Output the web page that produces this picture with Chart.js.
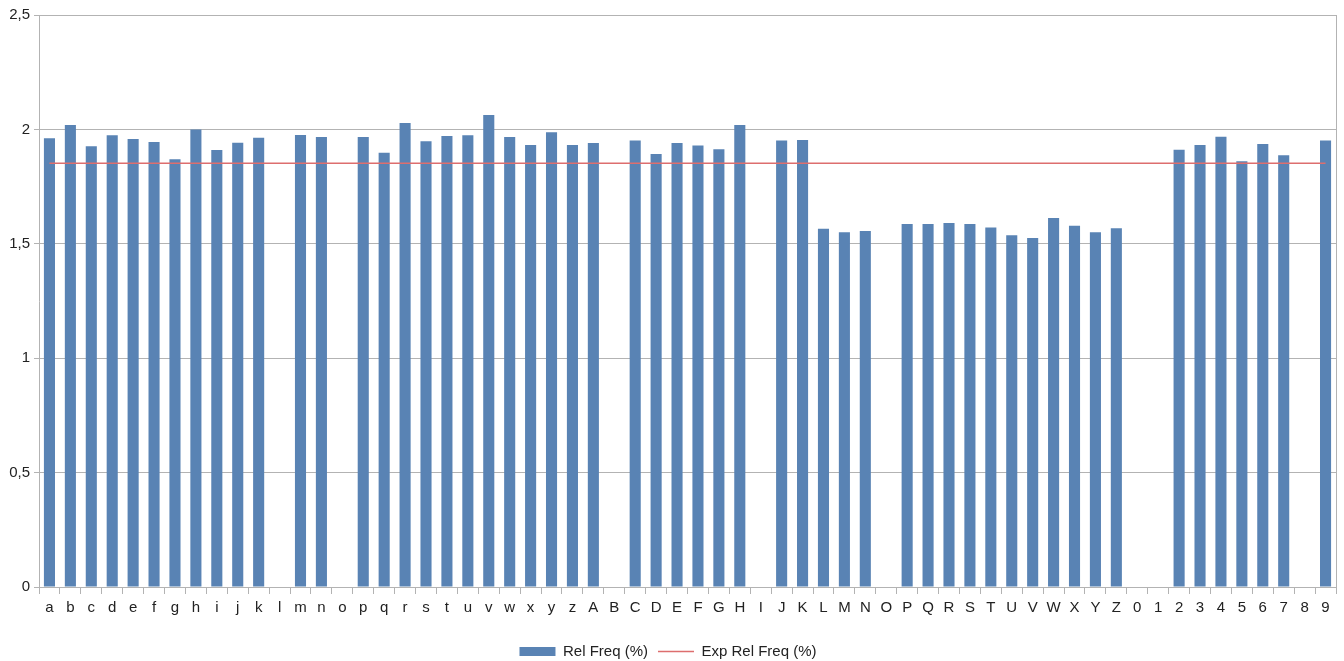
<!DOCTYPE html>
<html>
<head>
<meta charset="utf-8">
<script src="https://cdn.jsdelivr.net/npm/chart.js@4/dist/chart.umd.min.js"></script>
<style>
  html, body { margin: 0; padding: 0; background: #fff; }
  #wrap { width: 1344px; height: 661px; }
</style>
</head>
<body>
<div id="wrap"><canvas id="myChart"></canvas></div>
<script>
// categories: lower case, upper case, digits
const symbols = [
    "a","b","c","d","e","f","g","h","i","j","k","l","m","n","o","p","q","r","s","t","u","v","w","x","y","z",
    "A","B","C","D","E","F","G","H","I","J","K","L","M","N","O","P","Q","R","S","T","U","V","W","X","Y","Z",
    "0","1","2","3","4","5","6","7","8","9"
];

// observed relative frequency (%)
const relFreq = [
    1.961, 2.019, 1.926, 1.974, 1.958, 1.945, 1.869, 2.000, 1.910, 1.942, 1.964, 0, 1.976,
    1.967, 0, 1.967, 1.898, 2.028, 1.948, 1.971, 1.974, 2.063, 1.967, 1.932, 1.987, 1.932,
    1.941, 0, 1.951, 1.893, 1.941, 1.930, 1.913, 2.019, 0, 1.952, 1.954, 1.566, 1.550,
    1.556, 0, 1.587, 1.587, 1.591, 1.587, 1.571, 1.537, 1.525, 1.613, 1.579, 1.551, 1.568,
    0, 0, 1.911, 1.932, 1.968, 1.861, 1.936, 1.887, 0, 1.952
];

// expected relative frequency (%), same for every symbol
const expRelFreq = [
    1.852, 1.852, 1.852, 1.852, 1.852, 1.852, 1.852, 1.852, 1.852, 1.852, 1.852, 1.852, 1.852,
    1.852, 1.852, 1.852, 1.852, 1.852, 1.852, 1.852, 1.852, 1.852, 1.852, 1.852, 1.852, 1.852,
    1.852, 1.852, 1.852, 1.852, 1.852, 1.852, 1.852, 1.852, 1.852, 1.852, 1.852, 1.852, 1.852,
    1.852, 1.852, 1.852, 1.852, 1.852, 1.852, 1.852, 1.852, 1.852, 1.852, 1.852, 1.852, 1.852,
    1.852, 1.852, 1.852, 1.852, 1.852, 1.852, 1.852, 1.852, 1.852, 1.852
];

const yTicks = [0, 0.5, 1, 1.5, 2, 2.5];

const GRID = "#b3b3b3";

Chart.defaults.font.family = "'Liberation Sans', Arial, sans-serif";
Chart.defaults.font.size = 15;
Chart.defaults.color = "#222";

// gray line on the right side of the plot area
const rightBorder = {
    id: "rightBorder",
    afterDraw(chart) {
        const a = chart.chartArea;
        const ctx = chart.ctx;
        ctx.save();
        ctx.strokeStyle = GRID;
        ctx.lineWidth = 1;
        ctx.beginPath();
        ctx.moveTo(a.right + 0.5, a.top);
        ctx.lineTo(a.right + 0.5, a.bottom);
        ctx.stroke();
        ctx.restore();
    }
};

var ctx = document.getElementById("myChart").getContext("2d");
var chart = new Chart(ctx, {
    type: "bar",
    data: {
        labels: symbols,
        datasets: [{
            label: "Rel Freq (%)",
            data: relFreq,
            backgroundColor: "#5983b4",
            borderWidth: 0,
            barPercentage: 0.53,
            categoryPercentage: 1,
            pointStyle: "rect",
            order: 2
        }, {
            type: "line",
            label: "Exp Rel Freq (%)",
            data: expRelFreq,
            borderColor: "#dd6e6e",
            backgroundColor: "#dd6e6e",
            borderWidth: 1.5,
            pointRadius: 0,
            pointStyle: "line",
            fill: false,
            order: 1
        }]
    },
    options: {
        responsive: true,
        maintainAspectRatio: false,
        animation: false,
        layout: { padding: { top: 15, right: 8, left: 0, bottom: -8 } },
        plugins: {
            tooltip: { enabled: false },
            legend: {
                position: "bottom",
                labels: {
                    usePointStyle: true,
                    pointStyleWidth: 36,
                    boxWidth: 36,
                    boxHeight: 9,
                    padding: 10,
                    color: "#222",
                    sort: (a, b) => a.datasetIndex - b.datasetIndex
                }
            }
        },
        scales: {
            x: {
                grid: {
                    offset: true,
                    drawOnChartArea: false,
                    tickLength: 7,
                    color: GRID
                },
                border: { color: GRID },
                ticks: { padding: 5, autoSkip: false, maxRotation: 0 },
                afterFit(scale) { scale.height = 47; }
            },
            y: {
                min: 0,
                max: 2.5,
                afterBuildTicks(scale) {
                    scale.ticks = yTicks.map(v => ({ value: v }));
                },
                grid: { color: GRID, tickLength: 5 },
                border: { color: GRID },
                ticks: {
                    padding: 4,
                    callback: v => String(v).replace(".", ",")
                },
                afterFit(scale) { scale.width = 39; }
            }
        }
    },
    plugins: [rightBorder]
});
</script>
</body>
</html>
